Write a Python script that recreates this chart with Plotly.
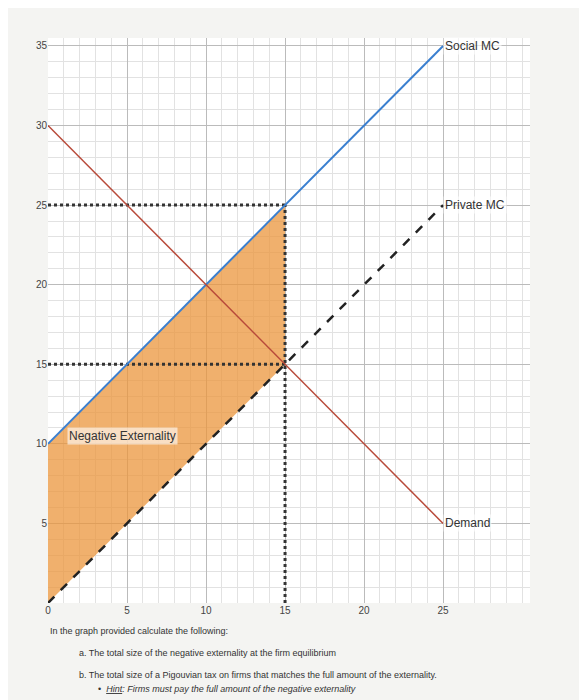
import plotly.graph_objects as go

q = [0, 25]
social_mc = [10, 35]
private_mc = [0, 25]
demand = [30, 5]
ext_x = [0, 0, 15, 15, 0]
ext_y = [0, 10, 25, 15, 0]
x_ticks = [0, 5, 10, 15, 20, 25]
y_ticks = [5, 10, 15, 20, 25, 30, 35]

fig = go.Figure()
fig.add_trace(go.Scatter(x=ext_x, y=ext_y, fill="toself", fillcolor="rgba(235,150,60,0.75)",
                         line=dict(color="rgba(0,0,0,0)"), mode="lines"))
fig.add_trace(go.Scatter(x=[0, 15], y=[25, 25], mode="lines", line=dict(color="#333", width=3, dash="dot")))
fig.add_trace(go.Scatter(x=[0, 15], y=[15, 15], mode="lines", line=dict(color="#333", width=3, dash="dot")))
fig.add_trace(go.Scatter(x=[15, 15], y=[0, 25], mode="lines", line=dict(color="#333", width=3, dash="dot")))
fig.add_trace(go.Scatter(x=q, y=social_mc, mode="lines", line=dict(color="#3a7fd0", width=2)))
fig.add_trace(go.Scatter(x=q, y=private_mc, mode="lines", line=dict(color="#222", width=2.5, dash="dash")))
fig.add_trace(go.Scatter(x=q, y=demand, mode="lines", line=dict(color="#b84a3a", width=1.5)))

for txt, x, y in [("Social MC", 25, 35), ("Private MC", 25, 25), ("Demand", 25, 5), ("Negative Externality", 1.2, 10.5)]:
    fig.add_annotation(x=x, y=y, text=txt, showarrow=False, xanchor="left", yanchor="middle",
                       font=dict(size=12, color="#333"), bgcolor="rgba(255,255,255,0.6)")

notes = [
    ("In the graph provided calculate the following:", 0.0, -0.062),
    ("a. The total size of the negative externality at the firm equilibrium", 0.06, -0.1),
    ("b. The total size of a Pigouvian tax on firms that matches the full amount of the externality.", 0.06, -0.14),
    ("&#8226;  <i><u>Hint</u>: Firms must pay the full amount of the negative externality</i>", 0.1, -0.165),
]
for t, x, y in notes:
    fig.add_annotation(x=x, y=y, xref="paper", yref="paper", text=t, showarrow=False,
                       xanchor="left", font=dict(size=9, color="#333"))

fig.update_layout(
    width=587, height=700, showlegend=False,
    plot_bgcolor="white", paper_bgcolor="#f4f4f2",
    margin=dict(l=40, r=65, t=30, b=105),
    font=dict(family="Arial, Liberation Sans", color="#444"),
    xaxis=dict(range=[0, 30.5], tickvals=x_ticks, showgrid=True, gridcolor="#bbb",
               minor=dict(dtick=1, showgrid=True, gridcolor="#e2e2e2"), zeroline=False,
               ticks="", tickfont=dict(size=10)),
    yaxis=dict(range=[0, 35.5], tickvals=y_ticks, showgrid=True, gridcolor="#bbb",
               minor=dict(dtick=1, showgrid=True, gridcolor="#e2e2e2"), zeroline=False,
               ticks="", tickfont=dict(size=10)),
)
fig.write_html("out.html")
